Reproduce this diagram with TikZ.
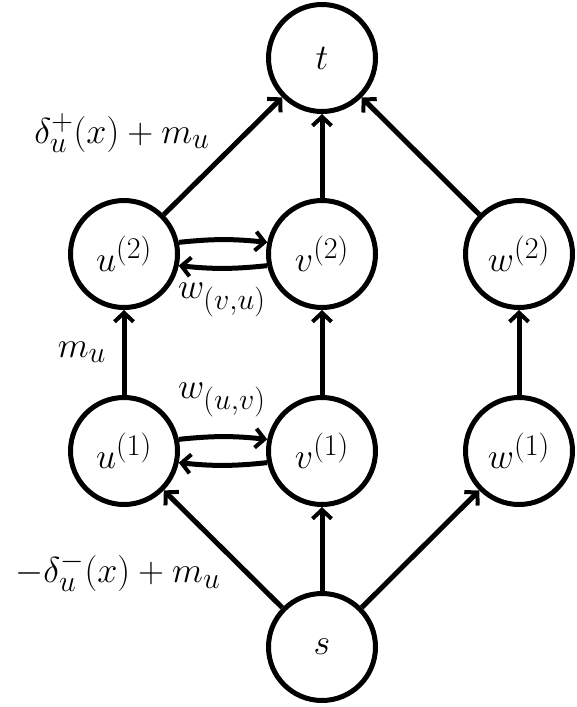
\documentclass[tikz,border=0pt]{standalone}
\usepackage{graphicx}
\usetikzlibrary{arrows.meta}
\newcommand{\BT}[1]{\scalebox{1.45}{\Huge$#1$}}
\begin{document}
\begin{tikzpicture}[x=1pt,y=-1pt,
  vert/.style={circle,draw,line width=5pt,minimum size=107pt,inner sep=0pt},
  edge/.style={line width=5pt,-{Straight Barb[length=9pt,width=19pt,line width=4pt]}},
  lab/.style={inner sep=0pt}]
\useasboundingbox (0,0) rectangle (576,707);
\node[vert] (t) at (322,58) {\BT{t}};
\node[vert] (u2) at (124,254) {\BT{u^{(2)}}};
\node[vert] (v2) at (322,254) {\BT{v^{(2)}}};
\node[vert] (w2) at (519,254) {\BT{w^{(2)}}};
\node[vert] (u1) at (124,451) {\BT{u^{(1)}}};
\node[vert] (v1) at (322,451) {\BT{v^{(1)}}};
\node[vert] (w1) at (519,451) {\BT{w^{(1)}}};
\node[vert] (s) at (322,647) {\BT{s}};
\draw[edge] (s) -- (u1);
\draw[edge] (s) -- (v1);
\draw[edge] (s) -- (w1);
\draw[edge] (u1) -- (u2);
\draw[edge] (v1) -- (v2);
\draw[edge] (w1) -- (w2);
\draw[edge] (u2) -- (t);
\draw[edge] (v2) -- (t);
\draw[edge] (w2) -- (t);
\draw[edge] (u2.12) to[bend left=6] (v2.168);
\draw[edge] (v2.-168) to[bend left=6] (u2.-12);
\draw[edge] (u1.12) to[bend left=6] (v1.168);
\draw[edge] (v1.-168) to[bend left=6] (u1.-12);
\node[lab] (l1) at (122,133) {\BT{\delta^+_u(x)+m_u}};
\node[lab] (l2) at (82,352) {\BT{m_u}};
\node[lab] (l3) at (118,572) {\BT{-\delta^-_u(x)+m_u}};
\node[lab] (l4) at (222,300) {\BT{w_{(v,u)}}};
\node[lab] (l5) at (222,400) {\BT{w_{(u,v)}}};
\end{tikzpicture}
\end{document}
